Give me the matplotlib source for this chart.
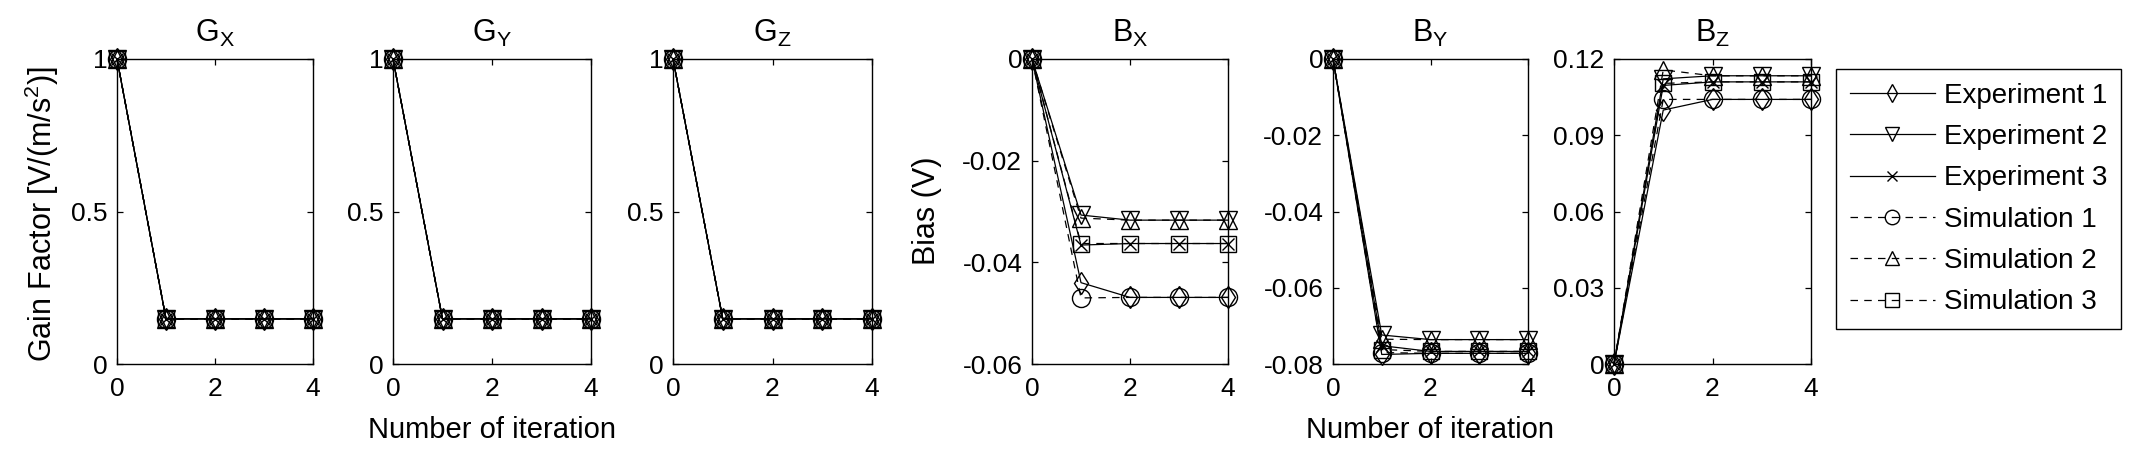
import matplotlib
matplotlib.use('Agg')
import matplotlib.pyplot as plt
from matplotlib.ticker import FixedLocator, FixedFormatter

plt.rcParams['font.family'] = ['Liberation Sans', 'DejaVu Sans']
plt.rcParams['mathtext.fontset'] = 'custom'
plt.rcParams['mathtext.rm'] = 'Liberation Sans'
plt.rcParams['mathtext.it'] = 'Liberation Sans:italic'
plt.rcParams['mathtext.bf'] = 'Liberation Sans:bold'
plt.rcParams['axes.unicode_minus'] = False

# ---------------- data ----------------
iterations = [0, 1, 2, 3, 4]
series_labels = ['Experiment 1', 'Experiment 2', 'Experiment 3',
                 'Simulation 1', 'Simulation 2', 'Simulation 3']

# order: Exp1, Exp2, Exp3, Sim1, Sim2, Sim3
gx = [[1, 0.148, 0.148, 0.148, 0.148]] * 6
gy = [[1, 0.148, 0.148, 0.148, 0.148]] * 6
gz = [[1, 0.148, 0.148, 0.148, 0.148]] * 6
bx = [[0, -0.0440, -0.0469, -0.0469, -0.0469],
      [0, -0.0307, -0.0317, -0.0317, -0.0317],
      [0, -0.0366, -0.0363, -0.0363, -0.0363],
      [0, -0.0470, -0.0469, -0.0469, -0.0469],
      [0, -0.0313, -0.0317, -0.0317, -0.0317],
      [0, -0.0363, -0.0363, -0.0363, -0.0363]]
by = [[0, -0.0775, -0.0772, -0.0772, -0.0772],
      [0, -0.0724, -0.0736, -0.0736, -0.0736],
      [0, -0.0752, -0.0767, -0.0767, -0.0767],
      [0, -0.0770, -0.0772, -0.0772, -0.0772],
      [0, -0.0735, -0.0736, -0.0736, -0.0736],
      [0, -0.0762, -0.0767, -0.0767, -0.0767]]
bz = [[0, 0.0999, 0.1041, 0.1041, 0.1041],
      [0, 0.1122, 0.1134, 0.1134, 0.1134],
      [0, 0.1096, 0.1110, 0.1110, 0.1110],
      [0, 0.1041, 0.1041, 0.1041, 0.1041],
      [0, 0.1157, 0.1134, 0.1134, 0.1134],
      [0, 0.1104, 0.1110, 0.1110, 0.1110]]

panel_titles = ['G$_\\mathrm{X}$', 'G$_\\mathrm{Y}$', 'G$_\\mathrm{Z}$',
                'B$_\\mathrm{X}$', 'B$_\\mathrm{Y}$', 'B$_\\mathrm{Z}$']
panel_data = [gx, gy, gz, bx, by, bz]
panel_ylims = [(0, 1), (0, 1), (0, 1), (-0.06, 0), (-0.08, 0), (0, 0.12)]
panel_yticks = [[0, 0.5, 1], [0, 0.5, 1], [0, 0.5, 1],
                [-0.06, -0.04, -0.02, 0],
                [-0.08, -0.06, -0.04, -0.02, 0],
                [0, 0.03, 0.06, 0.09, 0.12]]
panel_yticklabels = [['0', '0.5', '1'], ['0', '0.5', '1'], ['0', '0.5', '1'],
                     ['-0.06', '-0.04', '-0.02', '0'],
                     ['-0.08', '-0.06', '-0.04', '-0.02', '0'],
                     ['0', '0.03', '0.06', '0.09', '0.12']]
xticks = [0, 2, 4]
xticklabels = ['0', '2', '4']

# ---------------- layout ----------------
W, H = 2147, 451
fig = plt.figure(figsize=(W / 100, H / 100), dpi=100)

lefts_px = [117, 393, 673, 1032, 1333, 1614]
widths_px = [196, 198, 199, 196, 195, 197]
top_px, bottom_px = 59, 364

styles = [dict(marker='d', ls='-', ms=11.5),
          dict(marker='v', ls='-', ms=12.5),
          dict(marker='x', ls='-', ms=8.5),
          dict(marker='o', ls='--', ms=13),
          dict(marker='^', ls='--', ms=12.5),
          dict(marker='s', ls='--', ms=12)]

handles = []
for i in range(6):
    ax = fig.add_axes([lefts_px[i] / W, 1 - bottom_px / H,
                       widths_px[i] / W, (bottom_px - top_px) / H])
    for j, vals in enumerate(panel_data[i]):
        st = styles[j]
        ln, = ax.plot(iterations, vals, color='black', lw=0.9,
                      linestyle=st['ls'], marker=st['marker'], ms=st['ms'],
                      mfc='none', mec='black', mew=1.0, clip_on=False,
                      dashes=(6, 5) if st['ls'] == '--' else (None, None),
                      label=series_labels[j])
        if i == 0:
            handles.append(ln)
    ax.set_xlim(0, 4)
    ax.set_ylim(*panel_ylims[i])
    ax.xaxis.set_major_locator(FixedLocator(xticks))
    ax.xaxis.set_major_formatter(FixedFormatter(xticklabels))
    ax.yaxis.set_major_locator(FixedLocator(panel_yticks[i]))
    ax.yaxis.set_major_formatter(FixedFormatter(panel_yticklabels[i]))
    ax.tick_params(direction='in', top=True, right=True, length=4,
                   width=0.9, labelsize=19, colors='black')
    ax.tick_params(axis='x', pad=9)
    ax.tick_params(axis='y', pad=7)
    for sp in ax.spines.values():
        sp.set_linewidth(1.0)
    ax.set_title(panel_titles[i], fontsize=22, pad=12)

fig.text(42 / W, 1 - 214 / H, 'Gain Factor [V/(m/s$^2$)]', rotation=90,
         ha='center', va='center', fontsize=22)
fig.text(927 / W, 1 - 211 / H, 'Bias (V)', rotation=90,
         ha='center', va='center', fontsize=22)
fig.text(492 / W, 1 - 430 / H, 'Number of iteration', ha='center',
         va='center', fontsize=21)
fig.text(1430 / W, 1 - 430 / H, 'Number of iteration', ha='center',
         va='center', fontsize=21)

leg = fig.legend(handles, series_labels, loc='upper left',
                 bbox_to_anchor=(1836 / W, 1 - 69 / H), fontsize=20,
                 frameon=True, fancybox=False, edgecolor='black',
                 framealpha=1, handlelength=3.05, handletextpad=0.32,
                 labelspacing=0.55, borderpad=0.5, borderaxespad=0,
                 markerscale=0.8, numpoints=1)
leg.get_frame().set_linewidth(1.0)

fig.savefig('out.png', dpi=100)
